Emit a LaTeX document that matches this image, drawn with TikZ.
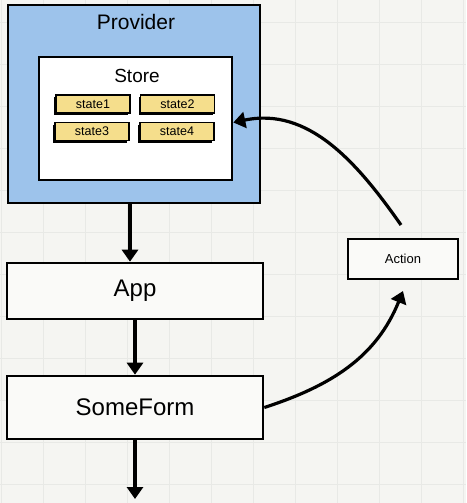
\documentclass[tikz,border=0pt]{standalone}
\usepackage{fontspec}
\setmainfont{Liberation Sans}
\usetikzlibrary{arrows.meta,shadows}
\definecolor{bgc}{RGB}{245,245,242}
\definecolor{gridc}{RGB}{232,233,230}
\definecolor{provc}{RGB}{157,195,235}
\definecolor{statec}{RGB}{245,222,140}
\definecolor{boxc}{RGB}{250,250,248}
\tikzset{
  box/.style={draw=black, line width=2.6pt, inner sep=0pt},
  statebox/.style={box, line width=1.6pt, fill=statec, minimum width=74pt, minimum height=18pt,
    font=\fontsize{12.5}{14}\selectfont,
    drop shadow={shadow xshift=-2pt, shadow yshift=-2pt, fill=black, opacity=1}},
  arr/.style={line width=3.2pt, -{Triangle[length=12pt,width=16pt]}},
}
\begin{document}
\begin{tikzpicture}[x=1pt,y=-1pt]
\useasboundingbox (0,0) rectangle (466,503);
\fill[bgc] (0,0) rectangle (466,503);
\foreach \gx in {1,43,85,127,169,211,253,295,337,379,421,463}
  \draw[gridc, line width=0.8pt] (\gx,0) -- (\gx,503);
\foreach \gy in {22,64,106,148,190,232,274,316,358,400,442,484}
  \draw[gridc, line width=0.8pt] (0,\gy) -- (466,\gy);

\node[box, fill=provc, minimum width=252pt, minimum height=198pt] (provider) at (134,104) {};
\node[font=\fontsize{21}{24}\selectfont] (providerlbl) at (136,22) {Provider};
\node[box, fill=white, minimum width=193pt, minimum height=123pt] (store) at (135.5,118.5) {};
\node[font=\fontsize{19}{22}\selectfont] (storelbl) at (137,76) {Store};
\node[statebox] (s1) at (93,104) {state1};
\node[statebox] (s2) at (177.5,104) {state2};
\node[statebox] (s3) at (92,131.5) {state3};
\node[statebox] (s4) at (177,131.5) {state4};

\node[box, fill=boxc, minimum width=256pt, minimum height=56pt, font=\fontsize{24}{27}\selectfont] (app) at (135,291) {App};
\node[box, fill=boxc, minimum width=256pt, minimum height=63pt, font=\fontsize{24}{27}\selectfont] (someform) at (135,407.5) {SomeForm};
\node[box, fill=boxc, minimum width=110pt, minimum height=40pt, font=\fontsize{13}{15}\selectfont] (action) at (403,259) {Action};
\coordinate (bottomend) at (135,499);
\coordinate (actionin) at (403,291);
\coordinate (actionout) at (401,225);

\draw[arr] (provider.south -| 130,0) -- (app.north -| 130,0);
\draw[arr] (app.south) -- (someform.north);
\draw[arr] (someform.south) -- (bottomend);
\draw[arr] (someform.east) to[out=18, in=-112] (actionin);
\draw[arr] (actionout) to[out=125, in=12] ([yshift=-4pt]store.east);
\end{tikzpicture}
\end{document}
